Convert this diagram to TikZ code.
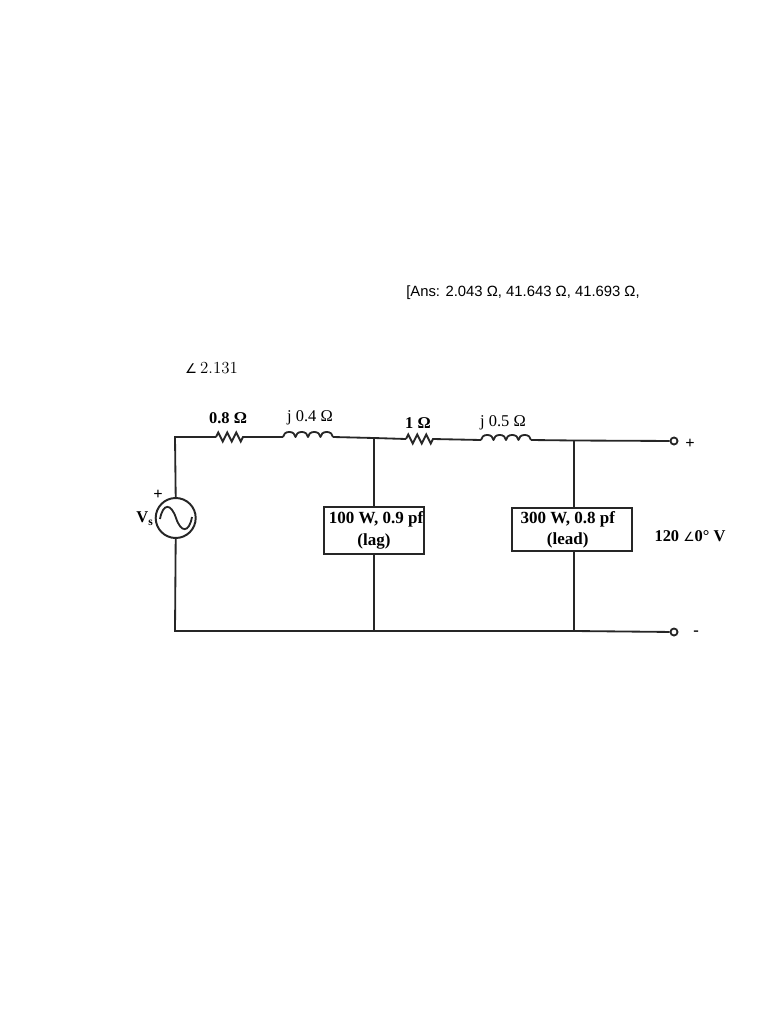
\documentclass[tikz,border=0pt]{standalone}
\usepackage{fontspec}
\setmainfont{Liberation Serif}
\newfontfamily\anssans{Liberation Sans}
\newfontfamily\anglefont{DejaVu Sans}
\usetikzlibrary{decorations.pathmorphing}
\tikzset{
    wire/.style={line width=1.3pt, color=black!85},
    resistor/.style={wire, decorate, decoration={zigzag, segment length=6.4pt, amplitude=3.2pt}},
    inductor/.style={wire, line join=round},
    loadbox/.style={draw=black!85, line width=1.4pt, align=center, inner sep=0pt, font=\bfseries\fontsize{12.1}{16}\selectfont},
    terminal/.style={circle, draw=black!85, line width=1.3pt, fill=white, minimum size=5pt, inner sep=0pt},
    partlabel/.style={font=\bfseries\fontsize{11.7}{14}\selectfont, inner sep=0pt},
    inductlabel/.style={font=\fontsize{11.7}{14}\selectfont, inner sep=0pt}
}
\begin{document}
\begin{tikzpicture}[x=0.025cm, y=-0.025cm]

    % Page size of the reference
    \useasboundingbox (0,0) rectangle (768,1024);

    % Text above the circuit
    \node[inner sep=0pt, font=\anssans\fontsize{10.55}{12}\selectfont] (ans) at (523,292.5) {[Ans: 2.043 Ω, 41.643 Ω, 41.693 Ω,};
    \node[inner sep=0pt, font=\fontsize{12.9}{15}\selectfont] (angle) at (211.5,368) {{\anglefont\fontsize{9.5}{10}\selectfont ∠}\,$2.131$};

    % Corners and junctions of the circuit
    \coordinate (TL) at (175,437);       % Top left corner
    \coordinate (BL) at (175,631);       % Bottom left corner
    \coordinate (J1) at (374,438);       % Junction above first load
    \coordinate (J2) at (574,440.5);     % Junction above second load
    \coordinate (B1) at (374,631);       % Junction below first load
    \coordinate (B2) at (574,631);       % Junction below second load

    % End points of the series elements
    \coordinate (R1a) at (216,437);
    \coordinate (R1b) at (243,437);
    \coordinate (L1a) at (283,437);
    \coordinate (L1b) at (333,437);
    \coordinate (R2a) at (406,439);
    \coordinate (R2b) at (433,439);
    \coordinate (L2a) at (481,440);
    \coordinate (L2b) at (531,440);

    % Source, loads and output terminals
    \node[circle, draw=black!85, line width=1.4pt, minimum size=1cm, inner sep=0pt] (Vs) at (175.7,518) {};
    \node[loadbox, minimum width=2.5cm, minimum height=1.175cm] (load1) at (374,530.5) {\kern3pt 100 W, 0.9 pf\\(lag)};
    \node[loadbox, minimum width=3cm, minimum height=1.075cm, font=\bfseries\fontsize{12.1}{15}\selectfont] (load2) at (572,529.5) {300 W, 0.8 pf\kern6pt\\(lead)\kern6pt};
    \node[terminal] (Tp) at (674,441) {};
    \node[terminal] (Tm) at (674,632) {};

    % Series elements
    \draw[resistor] (R1a) -- (R1b);
    \draw[inductor] (L1a) \foreach \h in {1,...,4} {arc[start angle=180, end angle=0, x radius=4.44pt, y radius=3.6pt]};
    \draw[resistor] (R2a) -- (R2b);
    \draw[inductor] (L2a) \foreach \h in {1,...,4} {arc[start angle=180, end angle=0, x radius=4.44pt, y radius=3.6pt]};

    % Wires
    \draw[wire] (Vs.north) -- (TL) -- (R1a);
    \draw[wire] (R1b) -- (L1a);
    \draw[wire] (L1b) -- (J1) -- (R2a);
    \draw[wire] (R2b) -- (L2a);
    \draw[wire] (L2b) -- (J2) -- (Tp);
    \draw[wire] (Vs.south) -- (BL) -- (B1) -- (B2) -- (Tm);
    \draw[wire] (J1) -- (load1.north);
    \draw[wire] (load1.south) -- (B1);
    \draw[wire] (J2) -- (J2 |- load2.north);
    \draw[wire] (J2 |- load2.south) -- (B2);

    % Sine wave inside the source
    \draw[wire] (160,519) .. controls (163,503) and (171,503) .. (176,518) .. controls (181,533) and (189,533) .. (192,517);

    % Labels of the elements
    \node[partlabel] (R1lab) at (228,418) {0.8 Ω};
    \node[inductlabel] (L1lab) at (310,418) {j 0.4 Ω};
    \node[partlabel] (R2lab) at (418,423) {1 Ω};
    \node[inductlabel] (L2lab) at (503,423) {j 0.5 Ω};

    % Labels of the source and the output
    \node[partlabel] (Vslab) at (145,518.5) {V\textsubscript{s}};
    \node[partlabel] (Vsplus) at (158,495) {+};
    \node[partlabel] (Tplab) at (690,444) {+};
    \node[partlabel] (Tmlab) at (696,633) {-};
    \node[partlabel] (Vout) at (690,536) {120 {\anglefont\mdseries\fontsize{9}{10}\selectfont ∠}0\textdegree{} V};

\end{tikzpicture}
\end{document}
